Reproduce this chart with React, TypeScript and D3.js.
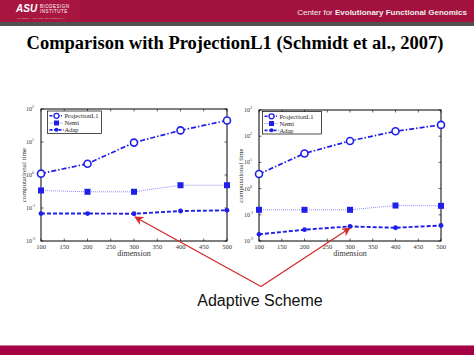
import React from "react";
import * as d3 from "d3";

const dims = [100, 200, 300, 400, 500];
const xTicks = [100, 150, 200, 250, 300, 350, 400, 450, 500];
const seriesNames = ["ProjectionL1", "Nemi", "Adap"];

const leftProj = [1.1, 2.2, 9.6, 22.5, 45];
const leftNemi = [0.34, 0.31, 0.31, 0.49, 0.49];
const leftAdap = [0.068, 0.068, 0.067, 0.081, 0.085];
const leftExps = [-2, -1, 0, 1, 2];

const rightProj = [3.6, 22, 66, 155, 270];
const rightNemi = [0.155, 0.155, 0.155, 0.226, 0.22];
const rightAdap = [0.018, 0.027, 0.036, 0.032, 0.039];
const rightExps = [-2, -1, 0, 1, 2, 3];

const BLUE = "#1f1fe8";
const CRIMSON = "#a3123f";

type PanelProps = {
  x0: number; x1: number; y0: number; y1: number;
  exps: number[];
  proj: number[]; nemi: number[]; adap: number[];
  legend: { x: number; y: number; w: number; h: number };
  ylabX: number;
};

function Panel(p: PanelProps) {
  const xs = d3.scaleLinear().domain([100, 500]).range([p.x0, p.x1]);
  const ys = d3
    .scaleLog()
    .domain([Math.pow(10, p.exps[0]), Math.pow(10, p.exps[p.exps.length - 1])])
    .range([p.y1, p.y0]);
  const line = d3
    .line<number>()
    .x((_, i) => xs(dims[i]))
    .y((v) => ys(v));
  const ff = "Liberation Serif, serif";
  const cx = (p.x0 + p.x1) / 2;
  const cy = (p.y0 + p.y1) / 2;
  const lg = p.legend;
  const rowY = [lg.y + 4.8, lg.y + 12, lg.y + 18.8];
  return (
    <g>
      <rect x={p.x0} y={p.y0} width={p.x1 - p.x0} height={p.y1 - p.y0} fill="#fff" stroke="#000" strokeWidth={1} />
      {xTicks.map((t) => (
        <g key={"xt" + t}>
          <line x1={xs(t)} x2={xs(t)} y1={p.y1} y2={p.y1 - 2.5} stroke="#000" strokeWidth={0.6} />
          <line x1={xs(t)} x2={xs(t)} y1={p.y0} y2={p.y0 + 2.5} stroke="#000" strokeWidth={0.6} />
          <text x={xs(t)} y={p.y1 + 7.5} fontSize={6.5} fontFamily={ff} textAnchor="middle" fill="#333">{t}</text>
        </g>
      ))}
      {p.exps.map((e) => {
        const y = ys(Math.pow(10, e));
        return (
          <g key={"yt" + e}>
            <line x1={p.x0} x2={p.x0 + 2.5} y1={y} y2={y} stroke="#000" strokeWidth={0.6} />
            <line x1={p.x1} x2={p.x1 - 2.5} y1={y} y2={y} stroke="#000" strokeWidth={0.6} />
            <text x={p.x0 - 9} y={y + 2} fontSize={6} fontFamily={ff} textAnchor="end" fill="#333">10</text>
            <text x={p.x0 - 9} y={y - 1} fontSize={4} fontFamily={ff} textAnchor="start" fill="#333">{e}</text>
          </g>
        );
      })}
      <text x={cx} y={p.y1 + 15} fontSize={8} fontFamily={ff} textAnchor="middle" fill="#333">dimension</text>
      <text transform={`translate(${p.ylabX},${cy}) rotate(-90)`} fontSize={7} fontFamily={ff} textAnchor="middle" fill="#333">computational time</text>

      <path d={line(p.nemi) || ""} fill="none" stroke="#8c8cff" strokeWidth={1} strokeDasharray="1,1" />
      <path d={line(p.proj) || ""} fill="none" stroke={BLUE} strokeWidth={1.7} strokeDasharray="5,2,1.5,2" />
      <path d={line(p.adap) || ""} fill="none" stroke={BLUE} strokeWidth={1.9} strokeDasharray="4,2" />
      {p.proj.map((v, i) => (
        <circle key={"pc" + i} cx={xs(dims[i])} cy={ys(v)} r={3.5} fill="#fff" stroke={BLUE} strokeWidth={1.6} />
      ))}
      {p.nemi.map((v, i) => (
        <rect key={"nr" + i} x={xs(dims[i]) - 3} y={ys(v) - 3} width={6} height={6} fill={BLUE} />
      ))}
      {p.adap.map((v, i) => (
        <circle key={"ac" + i} cx={xs(dims[i])} cy={ys(v)} r={2.4} fill={BLUE} />
      ))}

      <rect x={lg.x} y={lg.y} width={lg.w} height={lg.h} fill="#fff" stroke="#000" strokeWidth={0.7} />
      <line x1={lg.x + 2} x2={lg.x + 16} y1={rowY[0]} y2={rowY[0]} stroke={BLUE} strokeWidth={1.6} strokeDasharray="3,1.5,1,1.5" />
      <circle cx={lg.x + 9} cy={rowY[0]} r={2.5} fill="#fff" stroke={BLUE} strokeWidth={1.3} />
      <line x1={lg.x + 2} x2={lg.x + 16} y1={rowY[1]} y2={rowY[1]} stroke="#8c8cff" strokeWidth={1} strokeDasharray="1,1" />
      <rect x={lg.x + 6.5} y={rowY[1] - 2.5} width={5} height={5} fill={BLUE} />
      <line x1={lg.x + 2} x2={lg.x + 16} y1={rowY[2]} y2={rowY[2]} stroke={BLUE} strokeWidth={1.8} strokeDasharray="3,1.5" />
      <circle cx={lg.x + 9} cy={rowY[2]} r={2} fill={BLUE} />
      {seriesNames.map((n, i) => (
        <text key={n} x={lg.x + 17} y={rowY[i] + 2.2} fontSize={6.5} fontFamily={ff} fill="#222">{n}</text>
      ))}
    </g>
  );
}

export default function App() {
  const W = 474, H = 355;
  const red = "#d42a2a";
  return (
    <svg width={W} height={H} viewBox={`0 0 ${W} ${H}`} style={{ position: "absolute", left: 0, top: 0 }}>
      <defs>
        <marker id="ah" viewBox="0 0 10 10" refX="9" refY="5" markerWidth="7" markerHeight="7" orient="auto-start-reverse">
          <path d="M0,0 L10,5 L0,10 L3,5 z" fill={red} />
        </marker>
      </defs>
      <rect x={0} y={0} width={W} height={H} fill="#fff" />
      <rect x={0} y={0} width={W} height={22} fill={CRIMSON} />
      <rect x={0} y={0} width={80} height={22} fill="#a8163f" />
      <rect x={0} y={22} width={W} height={4} fill="#505050" />
      <text x={16} y={12} fontSize={10} fontWeight="bold" fontFamily="Liberation Sans, Arial, sans-serif" fill="#fff" fontStyle="italic">ASU</text>
      <text x={40} y={8} fontSize={4.5} fontFamily="Liberation Sans, Arial, sans-serif" fill="#fff" letterSpacing={0.5}>BIODESIGN</text>
      <text x={40} y={13} fontSize={4.5} fontFamily="Liberation Sans, Arial, sans-serif" fill="#fff" letterSpacing={0.5}>INSTITUTE</text>
      <text x={16} y={19} fontSize={2.5} fontFamily="Liberation Sans, Arial, sans-serif" fill="#f0c0cc" letterSpacing={0.6}>ARIZONA STATE UNIVERSITY</text>
      <text x={467} y={15} fontSize={8} fontFamily="Liberation Sans, Arial, sans-serif" fill="#eee" textAnchor="end">
        Center for <tspan fontWeight="bold">Evolutionary Functional Genomics</tspan>
      </text>

      <text x={235} y={49} fontSize={18.5} fontWeight="bold" fontFamily="Liberation Serif, Times New Roman, serif" textAnchor="middle" fill="#000">
        Comparison with ProjectionL1 (Schmidt et al., 2007)
      </text>

      <Panel x0={41} x1={227} y0={109} y1={241} exps={leftExps} proj={leftProj} nemi={leftNemi} adap={leftAdap}
        legend={{ x: 47.5, y: 111, w: 54, h: 22.5 }} ylabX={26} />
      <Panel x0={259} x1={441} y0={110} y1={241} exps={rightExps} proj={rightProj} nemi={rightNemi} adap={rightAdap}
        legend={{ x: 262.5, y: 111.5, w: 59, h: 22.5 }} ylabX={243} />

      <line x1={261} y1={286.5} x2={135} y2={217} stroke={red} strokeWidth={1.3} markerEnd="url(#ah)" />
      <line x1={261} y1={286.5} x2={350} y2={228} stroke={red} strokeWidth={1.3} markerEnd="url(#ah)" />
      <text x={260} y={306} fontSize={16} fontFamily="Liberation Sans, Arial, sans-serif" textAnchor="middle" fill="#111">Adaptive Scheme</text>

      <rect x={0} y={345} width={W} height={1} fill="#c77a92" />
      <rect x={0} y={346} width={W} height={9} fill="#a50044" />
    </svg>
  );
}
